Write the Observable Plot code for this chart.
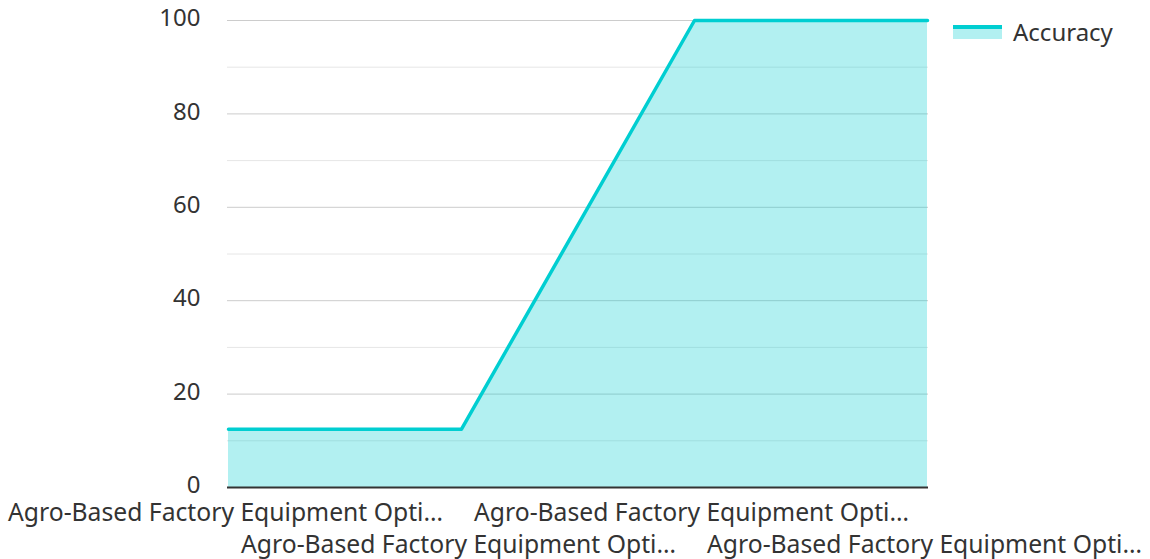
<!DOCTYPE html>
<html>
<head>
<meta charset="utf-8">
<script src="https://cdn.jsdelivr.net/npm/d3@7"></script>
<script src="https://cdn.jsdelivr.net/npm/@observablehq/plot@0.6"></script>
<style>
  html, body { margin: 0; padding: 0; background: #fff; }
  #wrap { position: relative; width: 1150px; height: 559px; font-family: "Noto Sans", sans-serif; }
  #legend { position: absolute; left: 953px; top: 15px; display: flex; align-items: center; font-size: 24px; color: #333; }
  #legend .sw { width: 49px; height: 14px; margin-right: 11px; position: relative; background: rgba(0,206,209,0.3); }
  #legend .sw::before { content: ""; position: absolute; left: 0; top: 0; width: 100%; height: 4px; background: #00CED1; }
</style>
</head>
<body>
<div id="wrap"><div id="legend"><div class="sw"></div><span>Accuracy</span></div></div>
<script>
const categories = [0, 1, 2, 3];
const tickLabels = [
  "Agro-Based Factory Equipment Opti…",
  "Agro-Based Factory Equipment Opti…",
  "Agro-Based Factory Equipment Opti…",
  "Agro-Based Factory Equipment Opti…"
];
const accuracy = [12.5, 12.5, 100, 100];
const yMajor = [0, 20, 40, 60, 80, 100];
const yMinor = [10, 30, 50, 70, 90];

const data = categories.map((c, i) => ({x: c, label: tickLabels[i], y: accuracy[i]}));
const color = "#00CED1";

const chart = Plot.plot({
  width: 1150,
  height: 559,
  marginLeft: 227,
  marginRight: 222,
  marginTop: 20,
  marginBottom: 72,
  style: {fontFamily: "Noto Sans, sans-serif", fontSize: "24px", color: "#333", background: "#fff"},
  x: {type: "point", domain: categories, padding: 0, axis: null},
  y: {domain: [0, 100], axis: null},
  marks: [
    Plot.ruleY(yMinor, {stroke: "#e6e6e6", strokeWidth: 1}),
    Plot.ruleY(yMajor.filter(v => v > 0), {stroke: "#ccc", strokeWidth: 1}),
    Plot.areaY(data, {x: "x", y: "y", fill: color, fillOpacity: 0.3}),
    Plot.lineY(data, {x: "x", y: "y", stroke: color, strokeWidth: 3.5}),
    Plot.ruleY([0], {stroke: "#333", strokeWidth: 2}),
    Plot.text(yMajor, {y: d => d, text: d => String(d), frameAnchor: "left", textAnchor: "end", dx: -27, dy: -2, fill: "#333", fontSize: 24}),
    Plot.text(data.filter((d, i) => i % 2 === 0), {x: "x", text: "label", frameAnchor: "bottom", dx: -3, dy: 33, fill: "#333", fontSize: 24.7}),
    Plot.text(data.filter((d, i) => i % 2 === 1), {x: "x", text: "label", frameAnchor: "bottom", dx: -3, dy: 65, fill: "#333", fontSize: 24.7})
  ]
});
document.getElementById("wrap").prepend(chart);
chart.style.position = "absolute";
chart.style.left = "0";
chart.style.top = "0";
</script>
</body>
</html>
